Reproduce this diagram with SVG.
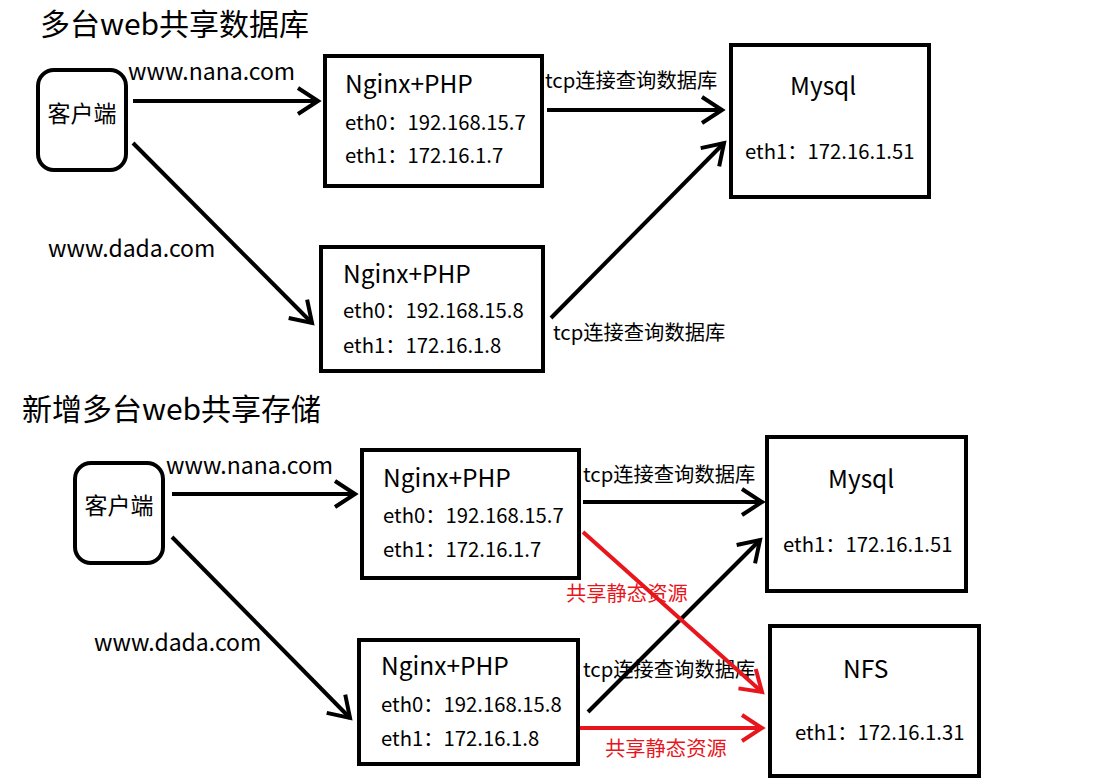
<svg xmlns="http://www.w3.org/2000/svg" width="1099" height="782" viewBox="0 0 1099 782">
<style>
text{font-family:"Microsoft YaHei","Noto Sans CJK SC","Liberation Sans",sans-serif;fill:#000}
.t{font-size:30px}.n{font-size:24.5px}.s{font-size:20.3px}.c{font-size:23px}
.box{fill:#fff;stroke:#000;stroke-width:4}
.ln{stroke:#000;stroke-width:4;fill:none;marker-end:url(#a)}
.rd{stroke:#e8161c;stroke-width:4;fill:none;marker-end:url(#r)}
.red{fill:#e8161c}
</style>
<defs>
<marker id="a" markerUnits="userSpaceOnUse" markerWidth="40" markerHeight="40" refX="0" refY="0" viewBox="-24 -20 30 40" orient="auto"><path d="M-20,-13 L0,0 L-20,13" stroke="#000" stroke-width="4" fill="none"/></marker>
<marker id="r" markerUnits="userSpaceOnUse" markerWidth="40" markerHeight="40" refX="0" refY="0" viewBox="-24 -20 30 40" orient="auto"><path d="M-20,-13 L0,0 L-20,13" stroke="#e8161c" stroke-width="4" fill="none"/></marker>
</defs>
<rect width="1099" height="782" fill="#fff"/>
<text class="t" x="40" y="35">多台web共享数据库</text>
<text class="t" x="22" y="420">新增多台web共享存储</text>
<g id="client1"><rect class="box" x="38" y="70" width="88" height="100" rx="16"/><text class="c" x="82" y="122" text-anchor="middle">客户端</text></g>
<g id="web1"><rect class="box" x="325" y="56" width="217" height="130"/><text class="n" x="345" y="93">Nginx+PHP</text><text class="s" x="345" y="130">eth0：192.168.15.7</text><text class="s" x="345" y="163">eth1：172.16.1.7</text></g>
<g id="mysql1"><rect class="box" x="731" y="45" width="198" height="152"/><text class="n" x="790" y="95">Mysql</text><text class="s" x="745" y="159">eth1：172.16.1.51</text></g>
<g id="web2"><rect class="box" x="321" y="247" width="222" height="124"/><text class="n" x="343" y="283">Nginx+PHP</text><text class="s" x="343" y="318">eth0：192.168.15.8</text><text class="s" x="343" y="353">eth1：172.16.1.8</text></g>
<g id="client2"><rect class="box" x="75" y="463" width="88" height="100" rx="16"/><text class="c" x="119" y="514" text-anchor="middle">客户端</text></g>
<g id="web3"><rect class="box" x="362" y="450" width="217" height="128"/><text class="n" x="383" y="487">Nginx+PHP</text><text class="s" x="383" y="523">eth0：192.168.15.7</text><text class="s" x="383" y="557">eth1：172.16.1.7</text></g>
<g id="mysql2"><rect class="box" x="767" y="437" width="199" height="154"/><text class="n" x="828" y="488">Mysql</text><text class="s" x="783" y="552">eth1：172.16.1.51</text></g>
<g id="web4"><rect class="box" x="359" y="640" width="219" height="124"/><text class="n" x="381" y="675">Nginx+PHP</text><text class="s" x="381" y="712">eth0：192.168.15.8</text><text class="s" x="381" y="746">eth1：172.16.1.8</text></g>
<g id="nfs"><rect class="box" x="770" y="626" width="209" height="150"/><text class="n" x="843" y="678">NFS</text><text class="s" x="795" y="740">eth1：172.16.1.31</text></g>
<g id="connectors">
<path class="ln" d="M133,101 L318,101"/><text class="c" x="128" y="80">www.nana.com</text>
<path class="ln" d="M133,143 L312,323"/><text class="c" x="48" y="257">www.dada.com</text>
<path class="ln" d="M547,110 L722,110"/><text class="s" x="545" y="88">tcp连接查询数据库</text>
<path class="ln" d="M551,318 L724,143"/><text class="s" x="553" y="340">tcp连接查询数据库</text>
<path class="ln" d="M172,494 L355,494"/><text class="c" x="166" y="474">www.nana.com</text>
<path class="ln" d="M172,537 L350,718"/><text class="c" x="94" y="651">www.dada.com</text>
<path class="ln" d="M583,502 L762,502"/><text class="s" x="583" y="482">tcp连接查询数据库</text>
<path class="ln" d="M588,712 L760,540"/><text class="s" x="583" y="677">tcp连接查询数据库</text>
<path class="rd" d="M583,532 L762,692"/><text class="s red" x="566" y="601">共享静态资源</text>
<path class="rd" d="M580,728 L762,728"/><text class="s red" x="605" y="756">共享静态资源</text>
</g>
</svg>
